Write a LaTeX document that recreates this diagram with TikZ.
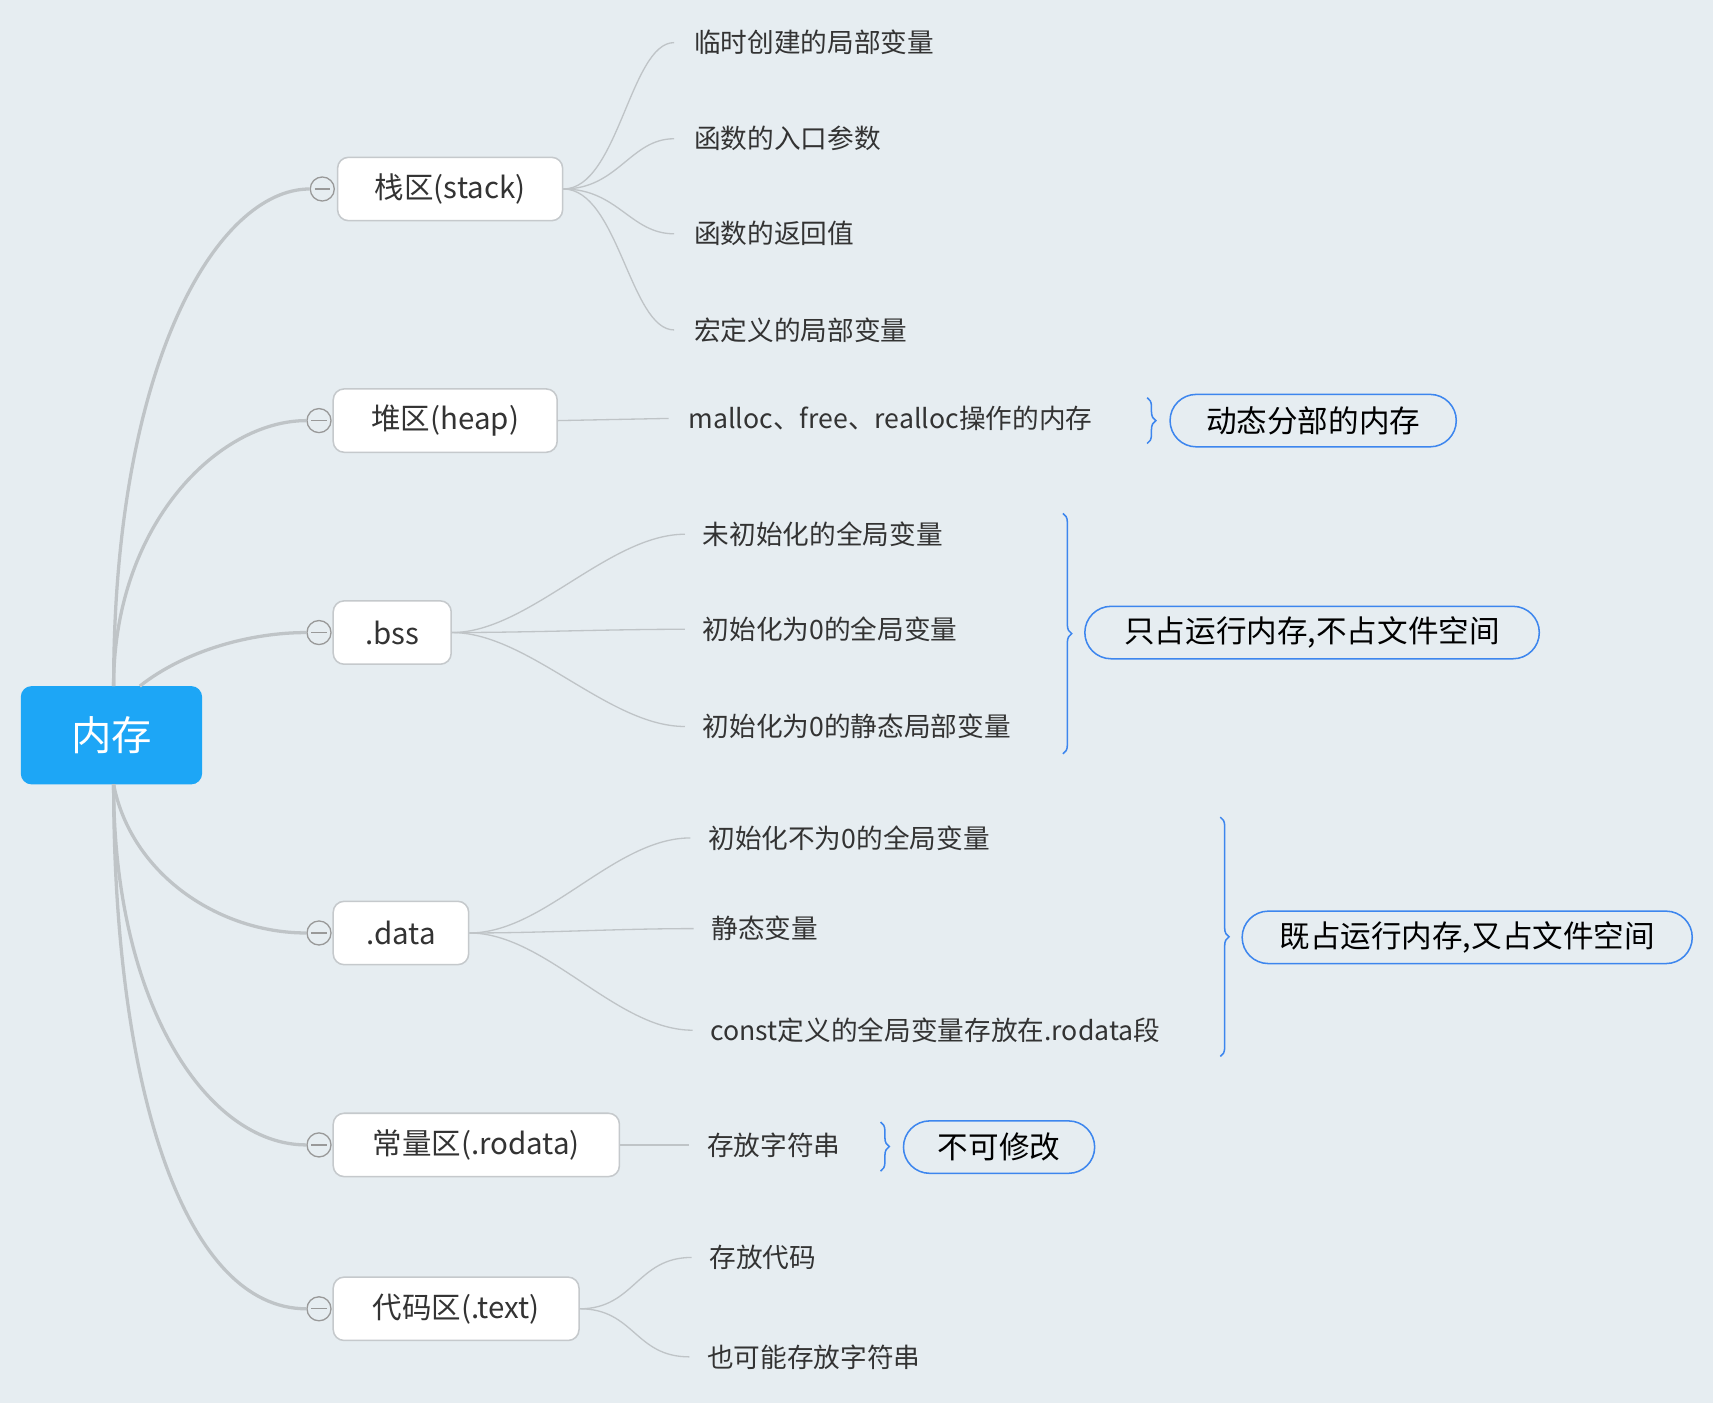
\documentclass[tikz,border=0pt]{standalone}
\usepackage{fontspec}
\setmainfont{Noto Sans CJK SC}
\usetikzlibrary{decorations.pathreplacing}
\definecolor{bg}{HTML}{E6EDF1}
\definecolor{ln}{HTML}{BFC4C7}
\definecolor{bd}{HTML}{C5C9CC}
\definecolor{bl}{HTML}{3D86EE}
\definecolor{rt}{HTML}{1DA6F6}
\definecolor{tx}{HTML}{333333}
\tikzset{
 lvl/.style={draw=bd,fill=white,rounded corners=5pt,line width=0.7pt,font=\fontsize{13.5}{15}\selectfont,text=tx,minimum height=29pt,inner sep=0pt},
 leaf/.style={anchor=west,font=\fontsize{12.2}{14}\selectfont,text=tx,inner sep=0pt},
 tag/.style={draw=bl,rounded corners=12pt,line width=0.7pt,font=\fontsize{14}{16}\selectfont,text=black,minimum height=24pt,inner sep=0pt},
 col/.style={circle,draw=gray!80,line width=0.6pt,fill=bg,minimum size=11pt,inner sep=0pt,
   path picture={\draw[gray!80,line width=0.6pt] ([xshift=2pt]path picture bounding box.west) -- ([xshift=-2pt]path picture bounding box.east);}},
 main/.style={ln,line width=1.5pt},
 sub/.style={ln,line width=0.6pt},
 br/.style={bl,line width=0.7pt,decorate,decoration={brace,amplitude=4pt}}
}
\begin{document}
\begin{tikzpicture}[x=0.5pt,y=-0.5pt]
\fill[bg] (0,0) rectangle (1568,1284);
\useasboundingbox (0,0) rectangle (1568,1284);
\node[fill=rt,rounded corners=5pt,minimum width=83pt,minimum height=45pt,text=white,font=\fontsize{18.5}{20}\selectfont] (root) at (102,673) {内存};
% level 1
\node[lvl,minimum width=103pt] (s) at (412,173) {栈区(stack)};
\node[lvl,minimum width=102.5pt] (h) at (407.5,385) {堆区(heap)};
\node[lvl,minimum width=54pt] (b) at (359,579) {.bss};
\node[lvl,minimum width=62pt] (d) at (367,854) {.data};
\node[lvl,minimum width=131pt] (r) at (436,1048) {常量区(.rodata)};
\node[lvl,minimum width=112.5pt] (t) at (417.5,1198) {代码区(.text)};
\node[col] (cs) at (295,173) {};
\node[col] (ch) at (292,385) {};
\node[col] (cb) at (292,579) {};
\node[col] (cd) at (292,854) {};
\node[col] (cr) at (292,1048) {};
\node[col] (ct) at (292,1198) {};
\coordinate (rt1) at (104,628);
\coordinate (rt2) at (128,628);
\coordinate (rb) at (104,718);
\draw[main] (rt1) .. controls (104,330) and (200,173) .. (cs.west);
\draw[main] (rt1) .. controls (104,480) and (200,385) .. (ch.west);
\draw[main] (rt2) .. controls (170,595) and (230,579) .. (cb.west);
\draw[main] (rb) .. controls (120,800) and (200,854) .. (cd.west);
\draw[main] (rb) .. controls (104,920) and (190,1048) .. (cr.west);
\draw[main] (rb) .. controls (104,1000) and (170,1198) .. (ct.west);
% leaves
\node[leaf] (s1) at (635,39) {临时创建的局部变量};
\node[leaf] (s2) at (635,127) {函数的入口参数};
\node[leaf] (s3) at (635,214) {函数的返回值};
\node[leaf] (s4) at (635,302) {宏定义的局部变量};
\foreach \n in {s1,s2,s3,s4}
  \draw[sub] (s.east) .. controls +(50,0) and +(-40,0) .. ([xshift=-9pt]\n.west);
\node[leaf] (h1) at (630,383) {malloc、free、realloc操作的内存};
\draw[sub] (h.east) -- ([xshift=-9pt]h1.west);
\node[leaf] (b1) at (643,489) {未初始化的全局变量};
\node[leaf] (b2) at (643,576) {初始化为0的全局变量};
\node[leaf] (b3) at (643,665) {初始化为0的静态局部变量};
\foreach \n in {b1,b2,b3}
  \draw[sub] (b.east) .. controls +(70,0) and +(-70,0) .. ([xshift=-8pt]\n.west);
\node[leaf] (d1) at (648,767) {初始化不为0的全局变量};
\node[leaf] (d2) at (651,850) {静态变量};
\node[leaf] (d3) at (650,943) {const定义的全局变量存放在.rodata段};
\foreach \n in {d1,d2,d3}
  \draw[sub] (d.east) .. controls +(70,0) and +(-70,0) .. ([xshift=-8pt]\n.west);
\node[leaf] (r1) at (647,1048) {存放字符串};
\draw[sub] (r.east) -- ([xshift=-8pt]r1.west);
\node[leaf] (t1) at (649,1151) {存放代码};
\node[leaf] (t2) at (647,1242) {也可能存放字符串};
\foreach \n in {t1,t2}
  \draw[sub] (t.east) .. controls +(50,0) and +(-50,0) .. ([xshift=-8pt]\n.west);
% tags
\node[tag,minimum width=131pt] (g1) at (1202,385) {动态分部的内存};
\node[tag,minimum width=208pt] (g2) at (1201,579) {只占运行内存,不占文件空间};
\node[tag,minimum width=206pt] (g3) at (1343,858) {既占运行内存,又占文件空间};
\node[tag,minimum width=87.5pt] (g4) at (914.5,1050) {不可修改};
\coordinate (a1) at (1050,364); \coordinate (a2) at (1050,406);
\coordinate (b1t) at (973,470); \coordinate (b2t) at (973,690);
\coordinate (c1) at (1117,748); \coordinate (c2) at (1117,967);
\coordinate (e1) at (806,1027); \coordinate (e2) at (806,1072);
\draw[br] (a1) -- (a2);
\draw[br] (b1t) -- (b2t);
\draw[br] (c1) -- (c2);
\draw[br] (e1) -- (e2);
\end{tikzpicture}
\end{document}
